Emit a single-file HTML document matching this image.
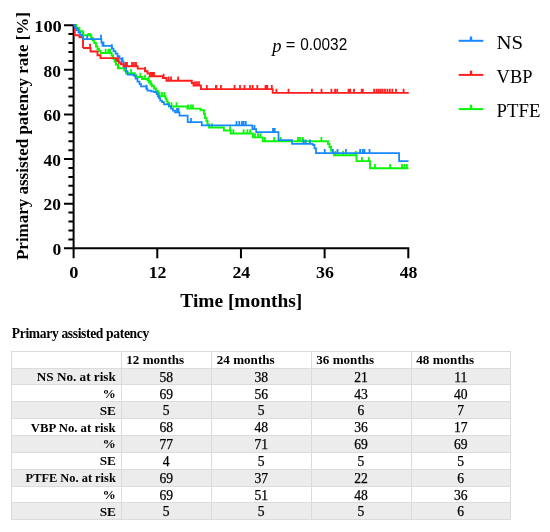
<!DOCTYPE html>
<html><head><meta charset="utf-8"><title>Primary assisted patency</title>
<style>
html,body{margin:0;padding:0;background:#fff;}
body{width:550px;height:532px;overflow:hidden;position:relative;font-family:"Liberation Serif",serif;color:#000;}
.plot{position:absolute;left:0;top:0;}
.plot text{font-family:"Liberation Serif",serif;fill:#000;}
.tl{font-size:17.5px;font-weight:bold;}
.at{font-size:17px;font-weight:bold;}
.lg{font-size:18px;}
.plot text.pv{font-family:"Liberation Sans",sans-serif;font-size:16.3px;}
.pi{font-style:italic;font-size:18.5px;}
.ttl{position:absolute;left:11.8px;top:325.6px;font-size:13.6px;font-weight:bold;line-height:15px;white-space:nowrap;letter-spacing:-0.36px;}
table{position:absolute;left:11px;top:351px;border-collapse:collapse;font-size:13.3px;}
td{border:1px solid #dcdcdc;height:16.85px;padding:0 5.5px;line-height:15px;text-align:center;white-space:nowrap;box-sizing:border-box;}
td.lab{text-align:right;font-weight:bold;width:109.5px;padding-right:4.6px;}
td.h{text-align:left;font-weight:bold;font-size:13.1px;padding-left:4.8px;}
td.v{font-size:13.6px;-webkit-text-stroke:0.25px #000;padding-top:1.4px;line-height:13px;}
tr.g td{background:#ececec;}
.sx{display:inline-block;transform-origin:100% 50%;}
tr.hd td{height:16.6px;}
</style></head><body>
<svg class="plot" width="550" height="320" viewBox="0 0 550 320">
<path d="M73.6 24.3V258.3M64.0 248.3H408.3V258.3M64 248.30H73.6M68.4 239.38H73.6M68.4 230.45H73.6M68.4 221.53H73.6M68.4 212.60H73.6M64 203.68H73.6M68.4 194.76H73.6M68.4 185.83H73.6M68.4 176.91H73.6M68.4 167.98H73.6M64 159.06H73.6M68.4 150.14H73.6M68.4 141.21H73.6M68.4 132.29H73.6M68.4 123.36H73.6M64 114.44H73.6M68.4 105.52H73.6M68.4 96.59H73.6M68.4 87.67H73.6M68.4 78.74H73.6M64 69.82H73.6M68.4 60.90H73.6M68.4 51.97H73.6M68.4 43.05H73.6M68.4 34.12H73.6M64 25.20H73.6M157.28 248.3V258.3M240.95 248.3V258.3M324.62 248.3V258.3" stroke="#000" stroke-width="2" fill="none"/>
<text x="61.2" y="255.0" class="tl" text-anchor="end" textLength="8.8" lengthAdjust="spacingAndGlyphs">0</text>
<text x="60.9" y="210.4" class="tl" text-anchor="end" textLength="17.4" lengthAdjust="spacingAndGlyphs">20</text>
<text x="60.9" y="165.8" class="tl" text-anchor="end" textLength="17.4" lengthAdjust="spacingAndGlyphs">40</text>
<text x="60.9" y="121.1" class="tl" text-anchor="end" textLength="17.4" lengthAdjust="spacingAndGlyphs">60</text>
<text x="60.9" y="76.5" class="tl" text-anchor="end" textLength="17.4" lengthAdjust="spacingAndGlyphs">80</text>
<text x="61.8" y="31.9" class="tl" text-anchor="end" textLength="27.6" lengthAdjust="spacingAndGlyphs">100</text>
<text x="73.9" y="278.2" class="tl" text-anchor="middle" textLength="9.2" lengthAdjust="spacingAndGlyphs">0</text>
<text x="157.6" y="278.2" class="tl" text-anchor="middle" textLength="17.8" lengthAdjust="spacingAndGlyphs">12</text>
<text x="241.3" y="278.2" class="tl" text-anchor="middle" textLength="17.8" lengthAdjust="spacingAndGlyphs">24</text>
<text x="324.9" y="278.2" class="tl" text-anchor="middle" textLength="17.8" lengthAdjust="spacingAndGlyphs">36</text>
<text x="408.6" y="278.2" class="tl" text-anchor="middle" textLength="17.8" lengthAdjust="spacingAndGlyphs">48</text>
<text class="at" transform="translate(28.3 136) rotate(-90)" text-anchor="middle" textLength="248" lengthAdjust="spacingAndGlyphs">Primary assisted patency rate [%]</text>
<text class="at" x="241.3" y="307.3" text-anchor="middle" textLength="122" lengthAdjust="spacingAndGlyphs" style="font-size:18px">Time [months]</text>
<text class="pi" x="272.2" y="51.6">p</text>
<text class="pv" x="285.8" y="50">=</text>
<text class="pv" x="300.2" y="49.6" textLength="47" lengthAdjust="spacingAndGlyphs">0.0032</text>
<path d="M73.6 25.2H76.0V28.3H79.3V31.3H82.7V35.3H91.2V38.0H92.8V40.5H94.3V43.0H96.0V46.5H97.5V49.0H99.0V51.0H100.7V53.0H111.6V55.5H113.0V58.5H114.5V61.5H116.0V64.5H117.8V68.3H124.2V70.5H126.0V73.3H134.8V75.2H136.5V77.0H142.0V79.0H147.5V80.5H149.0V82.5H150.5V84.5H152.0V86.3H154.0V88.5H156.0V91.0H158.0V96.2H165.5V98.5H166.5V100.5H167.5V103.0H169.0V106.5H187.3V108.6H200.5V110.2H204.0V114.0H205.0V118.0H206.5V121.0H207.5V124.5H209.0V127.5H223.9V130.5H230.8V133.5H252.9V137.4H262.7V141.2H328.0V144.0H329.5V147.0H331.0V150.5H332.5V153.0H334.0V155.3H356.5V161.1H370.0V168.2H408.5V168.2" stroke="#0af50a" stroke-width="1.90" fill="none"/>
<path d="M76.0 28.3V24.1M79.3 31.3V27.1M82.7 35.3V31.1M83.3 35.3V31.1M88.4 35.3V32.9M90.0 35.3V32.9M91.2 38.0V35.6M105.6 53.0V48.8M108.5 53.0V48.8M110.0 53.0V48.8M118.5 68.3V64.1M131.0 73.3V69.1M140.3 77.0V72.8M145.0 79.0V74.8M148.6 80.5V76.3M150.8 84.5V80.3M159.5 96.2V92.0M162.0 96.2V92.0M164.5 96.2V92.0M171.5 106.5V102.3M176.5 106.5V102.3M188.0 108.6V104.4M191.0 108.6V104.4M193.0 108.6V104.4M212.0 127.5V123.3M230.0 130.5V126.3M233.3 133.5V129.3M243.6 133.5V129.3M247.4 133.5V129.3M250.2 133.5V129.3M255.0 137.4V133.2M258.0 137.4V133.2M260.5 137.4V133.2M264.9 141.2V137.0M274.2 141.2V137.0M280.5 141.2V137.0M298.0 141.2V137.0M300.0 141.2V137.0M302.9 141.2V137.0M321.4 141.2V137.0M335.4 155.3V151.1M343.0 155.3V151.1M355.7 155.3V151.1M361.9 161.1V156.9M368.8 161.1V156.9M374.9 168.2V164.0M390.1 168.2V164.0M402.0 168.2V164.0M404.4 168.2V164.0M406.9 168.2V164.0" stroke="#0af50a" stroke-width="1.8" fill="none"/>
<path d="M73.6 25.2H74.8V35.3H79.5V37.2H83.0V48.0" stroke="#ff1e1e" stroke-width="1.90" fill="none"/>
<path d="M73.6 25.2H75.0V27.5H76.8V30.0H78.5V32.5H80.3V35.0H82.0V37.2H83.2V39.0H101.4V42.5H102.5V45.8H111.8V48.5H113.5V51.0H115.5V53.5H117.5V56.0H119.5V58.5H121.5V61.5H123.5V64.3H124.8V67.5H126.0V71.0H127.5V74.5H133.5V75.5H135.5V78.5H137.5V81.5H139.5V84.0H141.0V86.3H146.5V89.0H147.5V90.5H151.0V91.3H154.0V92.0H156.6V94.0H157.8V96.0H159.0V98.0H160.2V100.5H162.0V102.0H164.0V104.3H169.0V106.1H171.0V108.5H173.0V110.5H175.0V112.3H179.5V115.5H187.7V122.1H201.8V125.3H252.4V129.2H256.2V132.2H278.5V140.2H292.0V143.8H312.7V144.8H314.5V148.4H316.0V153.1H399.1V161.1H408.5V161.1" stroke="#1788ff" stroke-width="1.75" fill="none"/>
<path d="M87.2 39.0V34.8M101.0 39.0V34.8M103.5 45.8V41.6M111.8 48.5V44.3M122.6 61.5V57.3M146.5 89.0V84.8M177.0 112.3V108.1M178.5 112.3V108.1M191.0 122.1V117.9M236.5 125.3V121.1M239.3 125.3V121.1M242.0 125.3V121.1M243.6 125.3V121.1M245.8 125.3V121.1M254.5 129.2V125.0M273.0 132.2V128.0M274.7 132.2V128.0M303.4 143.8V139.6M305.6 143.8V139.6M310.0 143.8V139.6M324.7 153.1V148.9M332.9 153.1V148.9M337.5 153.1V148.9M345.9 153.1V148.9M360.1 153.1V148.9M362.6 153.1V148.9M364.5 153.1V148.9M369.5 153.1V148.9" stroke="#1788ff" stroke-width="1.8" fill="none"/>
<path d="M83.0 48.0H90.5V51.5H97.5V55.3H100.5V58.1H116.0V59.8H117.5V61.3H119.0V62.8H121.0V64.3H123.5V66.3H137.7V68.6H145.0V71.2H147.5V73.5H150.0V76.2H163.0V78.0H166.5V80.7H191.8V83.0H193.5V85.5H200.9V89.1H272.7V92.9H408.8V92.9" stroke="#ff1e1e" stroke-width="1.90" fill="none"/>
<path d="M90.0 48.0V43.8M118.0 61.3V57.1M125.5 66.3V62.1M127.0 66.3V62.1M132.0 66.3V62.1M134.0 66.3V62.1M136.0 66.3V62.1M145.2 71.2V67.0M150.5 76.2V72.0M152.3 76.2V72.0M154.0 76.2V72.0M163.6 78.0V73.8M168.6 80.7V76.5M171.0 80.7V76.5M178.1 80.7V76.5M195.0 85.5V81.3M197.0 85.5V81.3M199.0 85.5V81.3M206.8 89.1V84.9M215.9 89.1V84.9M216.4 89.1V84.9M220.9 89.1V84.9M234.5 89.1V84.9M240.0 89.1V84.9M244.5 89.1V84.9M250.0 89.1V84.9M252.7 89.1V84.9M257.3 89.1V84.9M265.5 89.1V84.9M267.3 89.1V84.9M271.8 89.1V84.9M276.4 92.9V88.7M288.5 92.9V88.7M311.9 92.9V88.7M321.5 92.9V88.7M331.4 92.9V88.7M335.1 92.9V88.7M337.2 92.9V88.7M348.5 92.9V88.7M350.2 92.9V88.7M354.0 92.9V88.7M361.7 92.9V88.7M362.8 92.9V88.7M374.1 92.9V88.7M376.5 92.9V88.7M378.6 92.9V88.7M380.6 92.9V88.7M382.6 92.9V88.7M385.0 92.9V88.7M387.4 92.9V88.7M389.8 92.9V88.7M392.4 92.9V88.7M396.0 92.9V88.7M403.6 92.9V88.7" stroke="#ff1e1e" stroke-width="1.8" fill="none"/>
<path d="M458.7 40.8H483.3" stroke="#1788ff" stroke-width="2" fill="none"/><path d="M471 40.8V36.5" stroke="#1788ff" stroke-width="2.4" fill="none"/>
<text class="lg" x="496.6" y="48.9" textLength="26.6" lengthAdjust="spacingAndGlyphs">NS</text>
<path d="M458.7 74.9H483.3" stroke="#ff1e1e" stroke-width="2" fill="none"/><path d="M471 74.9V70.6" stroke="#ff1e1e" stroke-width="2.4" fill="none"/>
<text class="lg" x="496.6" y="83.0" textLength="35.8" lengthAdjust="spacingAndGlyphs">VBP</text>
<path d="M458.7 109.1H483.3" stroke="#0af50a" stroke-width="2" fill="none"/><path d="M471 109.1V104.8" stroke="#0af50a" stroke-width="2.4" fill="none"/>
<text class="lg" x="496.6" y="117.2" textLength="44.0" lengthAdjust="spacingAndGlyphs">PTFE</text>
</svg>
<div class="ttl">Primary assisted patency</div>
<table>
<colgroup><col style="width:109.5px"><col style="width:90.5px"><col style="width:99.5px"><col style="width:100px"><col style="width:99.5px"></colgroup>
<tr class="hd"><td class="lab"></td><td class="h">12 months</td><td class="h">24 months</td><td class="h">36 months</td><td class="h">48 months</td></tr>
<tr class="g"><td class="lab"><span class="sx" style="transform:scaleX(0.990)">NS No. at risk</span></td><td class="v">58</td><td class="v">38</td><td class="v">21</td><td class="v">11</td></tr>
<tr><td class="lab">%</td><td class="v">69</td><td class="v">56</td><td class="v">43</td><td class="v">40</td></tr>
<tr class="g"><td class="lab">SE</td><td class="v">5</td><td class="v">5</td><td class="v">6</td><td class="v">7</td></tr>
<tr><td class="lab"><span class="sx" style="transform:scaleX(0.958)">VBP No. at risk</span></td><td class="v">68</td><td class="v">48</td><td class="v">36</td><td class="v">17</td></tr>
<tr class="g"><td class="lab">%</td><td class="v">77</td><td class="v">71</td><td class="v">69</td><td class="v">69</td></tr>
<tr><td class="lab">SE</td><td class="v">4</td><td class="v">5</td><td class="v">5</td><td class="v">5</td></tr>
<tr class="g"><td class="lab"><span class="sx" style="transform:scaleX(0.932)">PTFE No. at risk</span></td><td class="v">69</td><td class="v">37</td><td class="v">22</td><td class="v">6</td></tr>
<tr><td class="lab">%</td><td class="v">69</td><td class="v">51</td><td class="v">48</td><td class="v">36</td></tr>
<tr class="g"><td class="lab">SE</td><td class="v">5</td><td class="v">5</td><td class="v">5</td><td class="v">6</td></tr>
</table>
</body></html>
